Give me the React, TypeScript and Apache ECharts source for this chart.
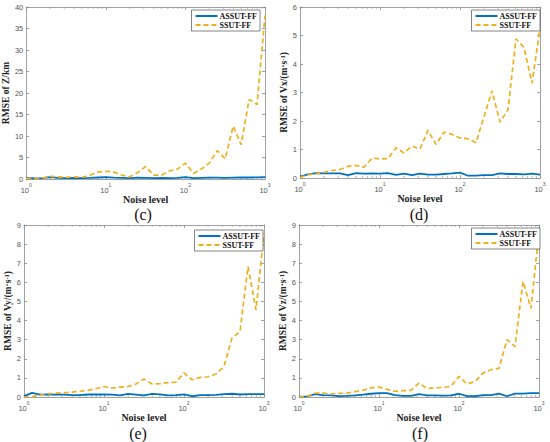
import React, { useEffect, useRef } from 'react';
import * as echarts from 'echarts';

const noiseLevels = [
  1, 1.259, 1.585, 1.995, 2.512, 3.162, 3.981, 5.012, 6.31, 7.943,
  10, 12.59, 15.85, 19.95, 25.12, 31.62, 39.81, 50.12, 63.1, 79.43,
  100, 125.9, 158.5, 199.5, 251.2, 316.2, 398.1, 501.2, 631, 794.3, 1000,
];

const seriesNames = ['ASSUT-FF', 'SSUT-FF'];

const assutZ = [0.3, 0.15, 0.2, 0.45, 0.25, 0.2, 0.25, 0.2, 0.25, 0.35, 0.45, 0.3, 0.25, 0.2, 0.3, 0.25, 0.2, 0.25, 0.2, 0.25, 0.45, 0.2, 0.25, 0.3, 0.3, 0.25, 0.3, 0.35, 0.35, 0.4, 0.45];
const ssutZ = [0.2, 0.1, 0.2, 0.6, 0.5, 0.4, 0.5, 0.4, 0.9, 1.6, 1.8, 1.6, 0.9, 0.5, 1.5, 2.9, 0.9, 0.9, 1.9, 2.3, 3.7, 1.3, 2.3, 3.7, 6.6, 4.7, 12.3, 8.0, 18.5, 17.3, 38.0];

const assutVx = [0.05, 0.13, 0.17, 0.16, 0.16, 0.16, 0.1, 0.17, 0.15, 0.16, 0.15, 0.17, 0.11, 0.15, 0.1, 0.15, 0.12, 0.12, 0.14, 0.16, 0.19, 0.08, 0.08, 0.1, 0.1, 0.16, 0.14, 0.14, 0.13, 0.15, 0.12];
const ssutVx = [0.02, 0.12, 0.15, 0.2, 0.26, 0.3, 0.41, 0.44, 0.38, 0.7, 0.67, 0.68, 1.06, 0.88, 1.12, 1.02, 1.67, 1.18, 1.61, 1.53, 1.4, 1.38, 1.24, 2.15, 3.06, 1.96, 2.4, 4.88, 4.58, 3.33, 5.25];

const assutVy = [0.05, 0.22, 0.12, 0.13, 0.12, 0.12, 0.1, 0.1, 0.13, 0.13, 0.13, 0.12, 0.09, 0.16, 0.12, 0.08, 0.16, 0.14, 0.08, 0.1, 0.14, 0.04, 0.1, 0.1, 0.11, 0.15, 0.17, 0.13, 0.15, 0.15, 0.15];
const ssutVy = [0.0, 0.02, 0.1, 0.16, 0.2, 0.22, 0.26, 0.3, 0.35, 0.43, 0.55, 0.47, 0.52, 0.55, 0.68, 0.94, 0.68, 0.7, 0.75, 0.78, 1.26, 0.9, 1.03, 1.06, 1.2, 1.6, 3.08, 3.43, 6.82, 4.56, 8.56];

const assutVz = [0.02, 0.03, 0.15, 0.1, 0.08, 0.05, 0.06, 0.08, 0.12, 0.17, 0.2, 0.2, 0.1, 0.06, 0.06, 0.15, 0.09, 0.08, 0.07, 0.08, 0.17, 0.05, 0.04, 0.1, 0.1, 0.18, 0.04, 0.18, 0.18, 0.2, 0.2];
const ssutVz = [0.0, 0.03, 0.2, 0.2, 0.17, 0.19, 0.2, 0.28, 0.35, 0.48, 0.52, 0.4, 0.3, 0.33, 0.35, 0.73, 0.44, 0.48, 0.5, 0.56, 1.08, 0.68, 0.8, 1.25, 1.43, 1.5, 3.0, 2.64, 6.05, 4.64, 8.7];

const minorMultipliers = [2, 3, 4, 5, 6, 7, 8, 9];
const decades = [1, 10, 100];

const panels = [
  { left: 25, top: 7, width: 240, height: 172, yMax: 40, yInt: 5, yName: 'RMSE of Z/km', nameGap: 12, tag: '(c)', tagX: 143, tagY: 214, a: assutZ, s: ssutZ, legendRight: 290, legendTop: 10 },
  { left: 300, top: 7, width: 240, height: 171, yMax: 6, yInt: 1, yName: 'RMSE of Vx/(m·s{sup|-1})', nameGap: 8, tag: '(d)', tagX: 419, tagY: 214, a: assutVx, s: ssutVx, legendRight: 10, legendTop: 10 },
  { left: 24, top: 225, width: 240, height: 172, yMax: 9, yInt: 1, yName: 'RMSE of Vy/(m·s{sup|-1})', nameGap: 8, tag: '(e)', tagX: 138, tagY: 433, a: assutVy, s: ssutVy, legendRight: 287, legendTop: 230 },
  { left: 299, top: 225, width: 240, height: 172, yMax: 9, yInt: 1, yName: 'RMSE of Vz/(m·s{sup|-1})', nameGap: 8, tag: '(f)', tagX: 420, tagY: 433, a: assutVz, s: ssutVz, legendRight: 10, legendTop: 228 },
];

const AXIS_COLOR = '#8a8a8a';
const LABEL_COLOR = '#555';
const SERIF = '"Liberation Serif", "Times New Roman", serif';
const SANS = '"Liberation Sans", Arial, sans-serif';

export default function App() {
  const ref = useRef<HTMLDivElement>(null);

  useEffect(() => {
    if (!ref.current) return;
    const chart = echarts.init(ref.current, undefined, { renderer: 'svg' });

    const grid: any[] = [];
    const xAxis: any[] = [];
    const yAxis: any[] = [];
    const series: any[] = [];
    const legend: any[] = [];

    panels.forEach((p, i) => {
      grid.push({ left: p.left, top: p.top, width: p.width, height: p.height, containLabel: false });
      const axisLine = { show: true, onZero: false, lineStyle: { color: AXIS_COLOR, width: 0.8 } };
      const axisTick = { show: true, inside: true, length: 3, lineStyle: { color: AXIS_COLOR, width: 0.8 } };
      xAxis.push({
        type: 'log', logBase: 10, gridIndex: i, min: 1, max: 1000, position: 'bottom',
        axisLine, axisTick, splitLine: { show: false },
        axisLabel: {
          margin: 3,
          color: LABEL_COLOR,
          formatter: (v: number) => `{b|10}{s|${Math.round(Math.log10(v))}}`,
          rich: {
            b: { fontSize: 7.5, fontFamily: SANS, color: LABEL_COLOR, padding: [4, 0, 0, 0] },
            s: { fontSize: 5, fontFamily: SANS, color: LABEL_COLOR, verticalAlign: 'top' },
          },
        },
        name: 'Noise level', nameLocation: 'middle', nameGap: 13,
        nameTextStyle: { fontFamily: SERIF, fontWeight: 'bold', fontSize: 10, color: '#222' },
      });
      xAxis.push({
        type: 'log', logBase: 10, gridIndex: i, min: 1, max: 1000, position: 'top',
        axisLine, axisTick, splitLine: { show: false }, axisLabel: { show: false },
      });
      yAxis.push({
        type: 'value', gridIndex: i, min: 0, max: p.yMax, interval: p.yInt, position: 'left',
        axisLine, axisTick, splitLine: { show: false },
        axisLabel: { fontSize: 7.5, fontFamily: SANS, color: LABEL_COLOR, margin: 3 },
        name: p.yName, nameLocation: 'middle', nameGap: p.nameGap, nameRotate: 90,
        nameTextStyle: {
          fontFamily: SERIF, fontWeight: 'bold', fontSize: 9.5, color: '#222',
          rich: { sup: { fontFamily: SERIF, fontWeight: 'bold', fontSize: 6.5, color: '#222', verticalAlign: 'top' } },
        },
      });
      yAxis.push({
        type: 'value', gridIndex: i, min: 0, max: p.yMax, interval: p.yInt, position: 'right',
        axisLine, axisTick, splitLine: { show: false }, axisLabel: { show: false },
      });
      series.push({
        name: seriesNames[0], type: 'line', xAxisIndex: 2 * i, yAxisIndex: 2 * i,
        data: noiseLevels.map((x, j) => [x, p.a[j]]),
        symbol: 'none', smooth: false,
        lineStyle: { color: '#0072BD', width: 1.8 }, itemStyle: { color: '#0072BD' },
      });
      series.push({
        name: seriesNames[1], type: 'line', xAxisIndex: 2 * i, yAxisIndex: 2 * i,
        data: noiseLevels.map((x, j) => [x, p.s[j]]),
        symbol: 'none', smooth: false,
        lineStyle: { color: '#EDB120', width: 1.7, type: [5, 3] }, itemStyle: { color: '#EDB120' },
      });
      legend.push({
        data: seriesNames, orient: 'vertical', right: p.legendRight, top: p.legendTop,
        itemWidth: 22, itemHeight: 8, itemGap: 1, padding: [2, 3, 2, 3],
        borderColor: '#333', borderWidth: 0.6, backgroundColor: '#fff',
        selectedMode: false,
        itemStyle: { opacity: 0 },
        textStyle: { fontFamily: SERIF, fontWeight: 'bold', fontSize: 8, color: '#111', padding: [0, 0, 0, -3] },
      });
    });

    chart.setOption({
      animation: false,
      backgroundColor: '#fff',
      grid, xAxis, yAxis, series, legend,
    });

    const elements: any[] = [];
    panels.forEach((p, i) => {
      elements.push({
        type: 'text', x: p.tagX, y: p.tagY, silent: true,
        style: { text: p.tag, fontFamily: SERIF, fontSize: 16, fill: '#111', align: 'center', verticalAlign: 'middle' },
      });
      const yb = chart.convertToPixel({ yAxisIndex: 2 * i } as any, 0) as number;
      const yt = chart.convertToPixel({ yAxisIndex: 2 * i } as any, p.yMax) as number;
      decades.forEach((d) => {
        minorMultipliers.forEach((m) => {
          const px = chart.convertToPixel({ xAxisIndex: 2 * i } as any, m * d) as number;
          elements.push({
            type: 'line', silent: true,
            shape: { x1: px, y1: yb, x2: px, y2: yb - 1.8 },
            style: { stroke: AXIS_COLOR, lineWidth: 0.7 },
          });
          elements.push({
            type: 'line', silent: true,
            shape: { x1: px, y1: yt, x2: px, y2: yt + 1.8 },
            style: { stroke: AXIS_COLOR, lineWidth: 0.7 },
          });
        });
      });
    });
    chart.setOption({ graphic: { elements } });

    return () => chart.dispose();
  }, []);

  return (
    <div
      ref={ref}
      style={{ position: 'fixed', left: 0, top: 0, width: 550, height: 442, background: '#fff' }}
    />
  );
}
